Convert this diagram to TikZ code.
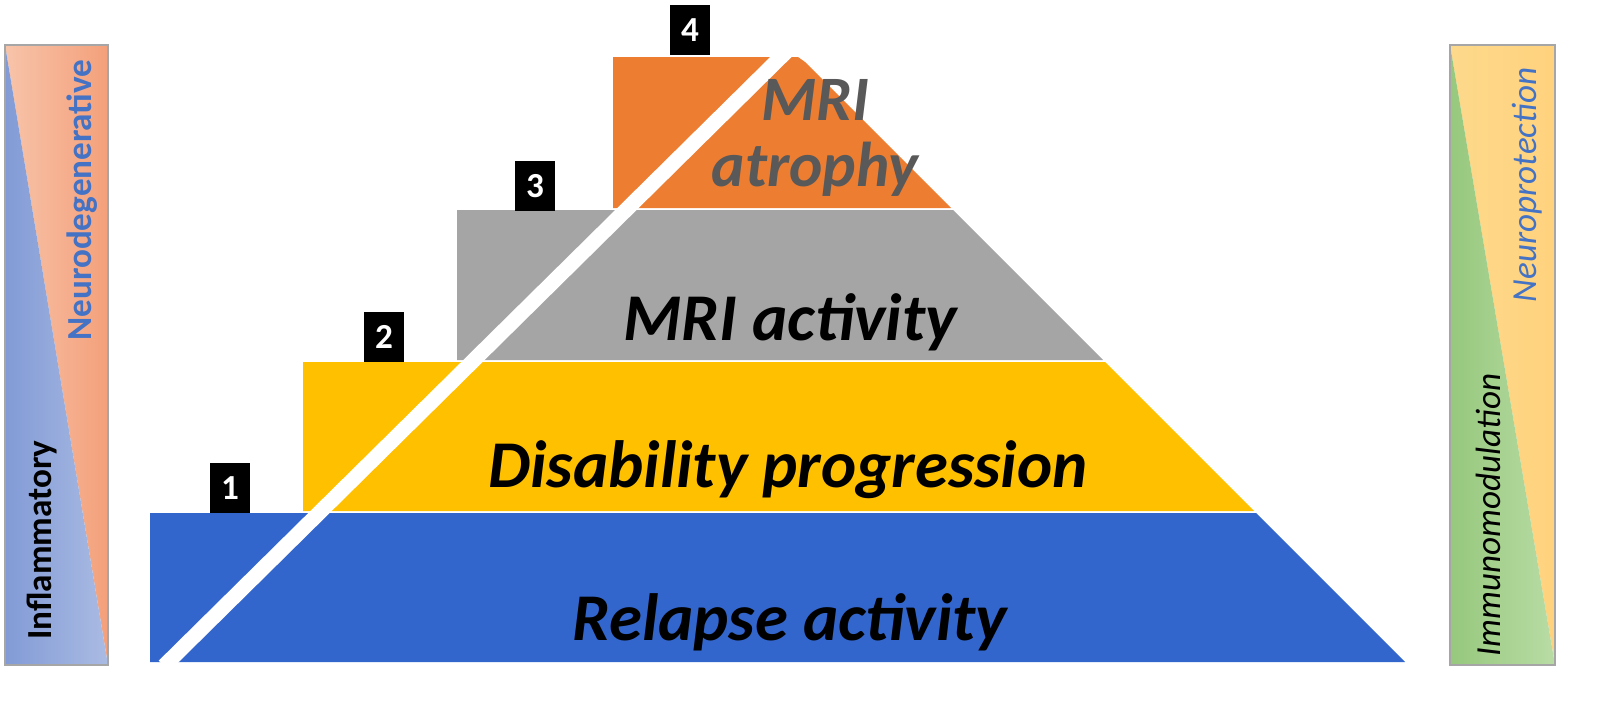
\documentclass[tikz,border=0pt]{standalone}
\usepackage{fontspec}
\setmainfont{Carlito}
\begin{document}
\begin{tikzpicture}[x=0.01cm,y=-0.01cm,
  numbox/.style={fill=black,text=white,font=\fontsize{10}{10}\selectfont\bfseries,minimum width=0.4cm,minimum height=0.5cm,inner sep=0},
  biglab/.style={font=\fontsize{19}{20}\selectfont\bfseries\itshape,text=black},
  sidelab/.style={rotate=90,font=\fontsize{10}{10}\selectfont}]
\definecolor{cblue}{HTML}{3366CC}
\definecolor{cyel}{HTML}{FFC000}
\definecolor{cgray}{HTML}{A5A5A5}
\definecolor{corange}{HTML}{ED7D31}
\definecolor{tblue}{HTML}{4472C4}
% side bars
\shade[left color={rgb,255:red,247;green,196;blue,170}, right color={rgb,255:red,244;green,160;blue,122}] (5,45) -- (108,45) -- (108,665) -- cycle;
\shade[left color={rgb,255:red,130;green,155;blue,214}, right color={rgb,255:red,170;green,187;blue,227}] (5,45) -- (108,665) -- (5,665) -- cycle;
\draw[gray!70,line width=0.3pt] (5,45) rectangle (108,665);
\node[sidelab,text=black] (infl) at (42,540) {\textbf{Inflammatory}};
\node[sidelab,text=tblue] (neuro) at (82,200) {\textbf{Neurodegenerative}};
\shade[left color={rgb,255:red,253;green,217;blue,140}, right color={rgb,255:red,255;green,210;blue,125}] (1450,45) -- (1555,45) -- (1555,665) -- cycle;
\shade[left color={rgb,255:red,150;green,200;blue,125}, right color={rgb,255:red,185;green,220;blue,165}] (1450,45) -- (1555,665) -- (1450,665) -- cycle;
\draw[gray!70,line width=0.3pt] (1450,45) rectangle (1555,665);
\node[sidelab,text=black] (immu) at (1488,515) {\itshape Immunomodulation};
\node[sidelab,text=tblue] (prot) at (1527,185) {\itshape Neuroprotection};
% pyramid layers
\fill[cblue] (150,662) -- (150,513) -- (1256,513) -- (1405,662) -- cycle;
\fill[cyel] (303,511) -- (303,362) -- (1105,362) -- (1254,511) -- cycle;
\fill[cgray] (457,360) -- (457,210) -- (953,210) -- (1103,360) -- cycle;
\fill[corange] (613,208) -- (613,57) -- (798,57) -- (805,62) -- (951,208) -- cycle;
% white band
\coordinate (b0) at (164,666);
\coordinate (b1) at (790,48);
\draw[white,line width=0.15cm] (b0) -- (b1);
% labels
\node[biglab] (rel) at (790,622) {Relapse activity};
\node[biglab] (dis) at (788,470) {Disability progression};
\node[biglab] (mri) at (790,322) {MRI activity};
\node[biglab,text=black!65,align=center,font=\fontsize{18}{19}\selectfont\bfseries\itshape] (atr) at (815,138) {MRI\\atrophy};
% number boxes
\node[numbox] (n1) at (230,488) {1};
\node[numbox] (n2) at (384,337) {2};
\node[numbox] (n3) at (535,186) {3};
\node[numbox] (n4) at (690,30) {4};
\pgfresetboundingbox
\useasboundingbox (0,0) rectangle (1600,712);
\end{tikzpicture}
\end{document}
